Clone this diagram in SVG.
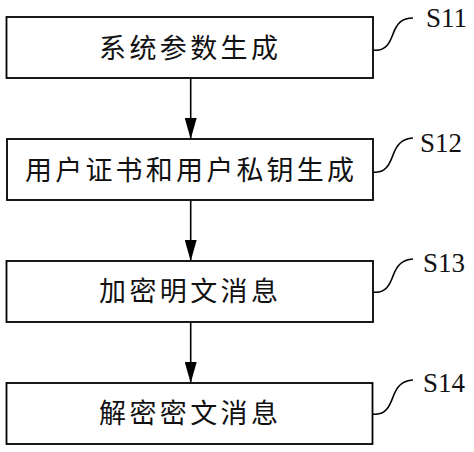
<svg xmlns="http://www.w3.org/2000/svg" width="474" height="452" viewBox="0 0 474 452">
<defs>
<style>
.box{fill:#fff;stroke:#000;stroke-width:1.8}
.t{font-family:"Noto Sans CJK SC","Noto Sans CJK TC",sans-serif;font-size:27px;fill:#111}
.s{font-family:"Liberation Serif","Times New Roman",serif;font-size:27px;fill:#111}
.sq{fill:none;stroke:#000;stroke-width:1.6}
.ln{stroke:#000;stroke-width:1.6}
</style>
<marker id="ah" markerWidth="21" markerHeight="12" refX="21" refY="6" orient="auto" markerUnits="userSpaceOnUse" viewBox="0 0 21 12">
<path d="M0,0 L21,6 L0,12 Z" fill="#000"/>
</marker>
</defs>
<rect width="474" height="452" fill="#fff"/>
<g id="connectors">
<line class="ln" x1="190.7" y1="78" x2="190.7" y2="139" marker-end="url(#ah)"/>
<line class="ln" x1="190.7" y1="200" x2="190.7" y2="261" marker-end="url(#ah)"/>
<line class="ln" x1="190.7" y1="322" x2="190.7" y2="383" marker-end="url(#ah)"/>
</g>
<g id="s11">
<rect class="box" x="6.5" y="17" width="366.5" height="61"/>
<text class="t" x="99" y="58" textLength="179" lengthAdjust="spacing">系统参数生成</text>
<path class="sq" d="M373,50 C386,52 390,42 393,34 C397,23 402,18 413,18"/>
<text class="s" x="426" y="27" textLength="41" lengthAdjust="spacingAndGlyphs">S11</text>
</g>
<g id="s12">
<rect class="box" x="7" y="139" width="366" height="61"/>
<text class="t" x="25" y="180" textLength="329" lengthAdjust="spacing">用户证书和用户私钥生成</text>
<path class="sq" d="M373,172 C386,174 390,163 393,155 C397,144 402,139 413,138"/>
<text class="s" x="420" y="152" textLength="42" lengthAdjust="spacingAndGlyphs">S12</text>
</g>
<g id="s13">
<rect class="box" x="6.5" y="261" width="366.5" height="61"/>
<text class="t" x="99" y="301" textLength="179" lengthAdjust="spacing">加密明文消息</text>
<path class="sq" d="M373,292 C386,294 390,284 393,276 C397,265 402,260 413,259"/>
<text class="s" x="423" y="272" textLength="42" lengthAdjust="spacingAndGlyphs">S13</text>
</g>
<g id="s14">
<rect class="box" x="6.5" y="383" width="366" height="61"/>
<text class="t" x="99" y="423" textLength="179" lengthAdjust="spacing">解密密文消息</text>
<path class="sq" d="M373,414 C386,416 390,405 393,397 C397,386 402,381 413,380"/>
<text class="s" x="423" y="392" textLength="42" lengthAdjust="spacingAndGlyphs">S14</text>
</g>
</svg>
